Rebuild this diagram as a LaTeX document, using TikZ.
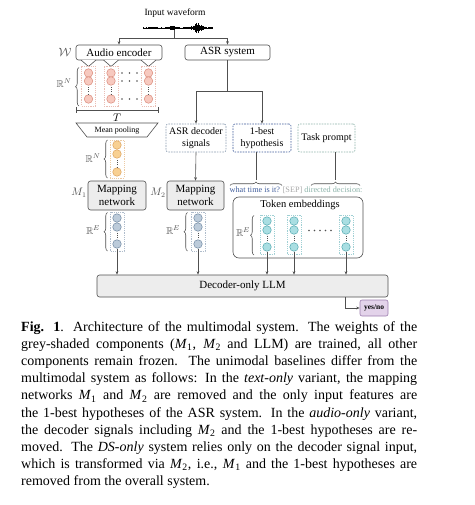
\documentclass[tikz,border=0pt]{standalone}
\usepackage{fontspec}
\setmainfont{Liberation Serif}
\usepackage{amssymb}
\usetikzlibrary{decorations.pathreplacing,arrows.meta,calc}
\definecolor{dg}{HTML}{505050}
\definecolor{lg}{HTML}{EDEDED}
\definecolor{pkf}{HTML}{F7C9BF}\definecolor{pkd}{HTML}{D98878}
\definecolor{orf}{HTML}{F8D092}\definecolor{ord}{HTML}{DDA15A}
\definecolor{blf}{HTML}{BCCBDA}\definecolor{bld}{HTML}{6E86A0}
\definecolor{tlf}{HTML}{A9DEE2}\definecolor{tld}{HTML}{52A9B0}
\definecolor{hypc}{HTML}{3F5C9A}
\definecolor{sepc}{HTML}{A8A8A8}
\definecolor{tpc}{HTML}{8DB3AA}
\definecolor{decc}{HTML}{8A9BB0}
\definecolor{ynf}{HTML}{E3D3EA}\definecolor{ynd}{HTML}{9C7CAE}
\tikzset{
  box/.style={draw=dg, rounded corners=2.5pt, line width=0.6pt, fill=white, inner sep=0pt, align=center},
  trained/.style={box, fill=lg},
  dbox/.style={rounded corners=2pt, line width=0.6pt, dash pattern=on 1.6pt off 1.1pt, inner sep=0pt, align=center},
  arr/.style={-{Stealth[length=3.5pt,width=2.8pt]}, line width=0.6pt, draw=dg},
  ln/.style={line width=0.6pt, draw=dg},
  cc/.style={circle, minimum size=8.5pt, inner sep=0pt, line width=0.5pt},
  pk/.style={cc, fill=pkf, draw=pkd},
  orc/.style={cc, fill=orf, draw=ord},
  blc/.style={cc, fill=blf, draw=bld},
  tlc/.style={cc, fill=tlf, draw=tld},
  col/.style={draw=#1!55, line width=0.4pt, dash pattern=on 1.2pt off 1pt},
  brc/.style={decorate, decoration={brace, amplitude=3.5pt}, line width=0.6pt, draw=dg},
  rlab/.style={text=dg, font=\fontsize{10}{11}\selectfont, inner sep=0pt},
  vdots/.style={draw=dg, line width=0.6pt, dash pattern=on 0.6pt off 1.6pt},
}
\begin{document}
\begin{tikzpicture}[x=1pt,y=-1pt]
\useasboundingbox (0,0) rectangle (474,505);

% input waveform
\node[font=\fontsize{9.5}{11}\selectfont] (inw) at (175,13) {Input waveform};
\pgfmathsetseed{7}
\draw[line width=0.6pt] (143,28) -- (212,28);
\foreach \i in {0,...,69}{
  \pgfmathsetmacro\xx{143+\i}
  \pgfmathsetmacro\da{(\xx-197)/6}
  \pgfmathsetmacro\db{(\xx-172)/4}
  \pgfmathsetmacro\a{(0.8+4*exp(-1*(\da)*(\da))+1.5*exp(-1*(\db)*(\db)))*(0.45+0.55*rnd)}
  \draw[line width=0.45pt] (\xx,28-\a) -- (\xx,28+\a);
}
\coordinate (wv) at (174,30);
\coordinate (split) at (174,38);

% top boxes
\node[box, minimum width=86pt, minimum height=15pt, font=\fontsize{11}{12}\selectfont] (ae) at (119,52.5) {Audio encoder};
\node[box, minimum width=85pt, minimum height=15pt, font=\fontsize{11}{12}\selectfont] (asr) at (227.5,52.5) {ASR system};
\node[text=dg, font=\fontsize{12}{12}\selectfont] (W) at (65,52) {$\mathcal{W}$};
\draw[ln] (wv) -- (split);
\draw[arr] (split) -| (ae.north);
\draw[arr] (split) -| (asr.north);

% funnels and pink columns
\foreach \x [count=\k] in {88.5,111,148.5}{
  \draw[ln, fill=white, line join=round] (\x-7.5,60) -- (\x,66.5) -- (\x+7.5,60);
  \draw[col=pkd] (\x-7,66.5) rectangle (\x+7,106);
  \node[pk] (p\k a) at (\x,73) {};
  \node[pk] (p\k b) at (\x,81) {};
  \node[pk] (p\k c) at (\x,99) {};
  \draw[vdots] (\x,87) -- (\x,94);
}
\foreach \y in {73,81,99}{
  \foreach \x in {122,129.5,137}{ \fill[dg] (\x,\y) circle (0.9pt); }
}
\draw[brc] (79,106) -- (79,67.5);
\node[rlab] (rn1) at (64,83) {$\mathbb{R}^N$};
% T dimension
\draw[ln] (76,110) -- (158,110);
\draw[ln] (76,107) -- (76,113);
\draw[ln] (158,107) -- (158,113);
\node[font=\fontsize{11}{12}\selectfont\itshape, inner sep=0pt] (T) at (117,117.5) {$T$};

% mean pooling
\draw[ln, fill=white] (76,123) -- (158,123) -- (147,137) -- (87,137) -- cycle;
\node[font=\fontsize{8}{9}\selectfont] (mp) at (117,130.5) {Mean pooling};

% orange column
\draw[col=ord] (110,140) rectangle (124,178);
\node[orc] (o1) at (117,145) {};
\node[orc] (o2) at (117,154) {};
\node[orc] (o3) at (117,172) {};
\draw[vdots] (117,160) -- (117,167);
\draw[brc] (107.5,178) -- (107.5,140);
\node[rlab] (rn2) at (93,158) {$\mathbb{R}^N$};

% mapping networks
\node[trained, minimum width=58pt, minimum height=29pt, font=\fontsize{11}{12.5}\selectfont] (m1) at (117,195.5) {Mapping\\network};
\node[trained, minimum width=57pt, minimum height=29pt, font=\fontsize{11}{12.5}\selectfont] (m2) at (195.5,195.5) {Mapping\\network};
\node[text=dg, font=\fontsize{10.5}{12}\selectfont] (m1l) at (79,192.5) {$M_1$};
\node[text=dg, font=\fontsize{10.5}{12}\selectfont] (m2l) at (158,192.5) {$M_2$};

% blue columns
\foreach \x/\bx/\n in {117/107.5/a,198/187.5/b}{
  \draw[col=bld] (\x-7,212) rectangle (\x+7,251);
  \node[blc] (b\n1) at (\x,218) {};
  \node[blc] (b\n2) at (\x,227) {};
  \node[blc] (b\n3) at (\x,244) {};
  \draw[vdots] (\x,232.5) -- (\x,239);
  \draw[brc] (\bx,251) -- (\bx,212.5);
}
\node[rlab] (re1) at (93,230) {$\mathbb{R}^E$};
\node[rlab] (re2) at (173,230) {$\mathbb{R}^E$};

% ASR outputs
\node[dbox, draw=decc, minimum width=60pt, minimum height=28pt, font=\fontsize{10}{11.5}\selectfont] (dec) at (196,138) {ASR decoder\\signals};
\node[dbox, draw=hypc, minimum width=58pt, minimum height=28pt, font=\fontsize{10}{11.5}\selectfont] (best) at (262,138) {1-best\\hypothesis};
\node[dbox, draw=tpc, minimum width=57pt, minimum height=28pt, font=\fontsize{10}{11.5}\selectfont] (tp) at (326.5,138) {Task prompt};
\coordinate (asrsplit) at (227.5,91);
\draw[ln] (asr.south) -- (asrsplit);
\draw[arr] (asrsplit) -| (dec.north);
\draw[arr] (asrsplit) -| (best.north);
\draw[arr] (dec.south) -- (m2.north);

% prompt text
\node[anchor=west, inner sep=0pt, font=\fontsize{8.2}{9}\selectfont] (ptxt) at (229.5,190.5) {\textcolor{hypc}{what time is it?} \textcolor{sepc}{[SEP]} \textcolor{tpc}{directed decision:}};
\coordinate (b1) at (256,179.5);
\coordinate (b2) at (335.5,179.5);
\draw[brc] (230,185.5) -- (282,185.5);
\draw[brc] (311,185.5) -- (360,185.5);
\draw[ln] (best.south -| b1) -- (b1);
\draw[ln] (tp.south -| b2) -- (b2);

% token embeddings
\node[box, rounded corners=6pt, minimum width=130pt, minimum height=61pt] (tok) at (298,227.5) {};
\node[font=\fontsize{10.5}{12}\selectfont, inner sep=0pt] (tokl) at (300,205) {Token embeddings};
\foreach \x [count=\k] in {267,294,346}{
  \draw[col=tld] (\x-7,215) rectangle (\x+7,254);
  \node[tlc] (t\k a) at (\x,221) {};
  \node[tlc] (t\k b) at (\x,230) {};
  \node[tlc] (t\k c) at (\x,247) {};
  \draw[vdots] (\x,235.5) -- (\x,242);
}
\foreach \x in {309,314.5,320,325.5,331}{ \fill[dg] (\x,230.5) circle (0.9pt); }
\draw[brc] (254,255) -- (254,215.5);
\node[rlab] (re3) at (243,232) {$\mathbb{R}^E$};

% LLM
\node[trained, minimum width=291pt, minimum height=22pt, font=\fontsize{11}{12}\selectfont] (llm) at (242.5,286) {Decoder-only LLM};
\draw[arr] (ba3.south) -- (ba3.south |- llm.north);
\draw[arr] (bb3.south) -- (bb3.south |- llm.north);
\foreach \k in {1,2,3}{ \draw[arr] (t\k c.south) -- (t\k c.south |- llm.north); }

% output
\node[draw=ynd, fill=ynf, rounded corners=2pt, line width=0.6pt, minimum width=28pt, minimum height=16pt, inner sep=0pt, font=\fontsize{7.5}{8}\selectfont\bfseries] (yes) at (374,308) {yes/no};
\coordinate (outc) at (345,0);
\draw[arr] (llm.south -| outc) |- (yes.west);

% caption
\node[anchor=north west, inner sep=0pt, text width=396pt, align=justify, font=\fontsize{14}{17.2}\selectfont] (cap) at (21,321) {\textbf{Fig. 1}. Architecture of the multimodal system. The weights of the\linebreak
grey-shaded components (\textit{M}\textsubscript{1}, \textit{M}\textsubscript{2} and LLM) are trained, all other\linebreak
components remain frozen. The unimodal baselines differ from the\linebreak
multimodal system as follows: In the \textit{text-only} variant, the mapping\linebreak
networks \textit{M}\textsubscript{1} and \textit{M}\textsubscript{2} are removed and the only input features are\linebreak
the 1-best hypotheses of the ASR system. In the \textit{audio-only} variant,\linebreak
the decoder signals including \textit{M}\textsubscript{2} and the 1-best hypotheses are re-\linebreak
moved. The \textit{DS-only} system relies only on the decoder signal input,\linebreak
which is transformed via \textit{M}\textsubscript{2}, i.e., \textit{M}\textsubscript{1} and the 1-best hypotheses are\linebreak
removed from the overall system.};
\end{tikzpicture}
\end{document}
